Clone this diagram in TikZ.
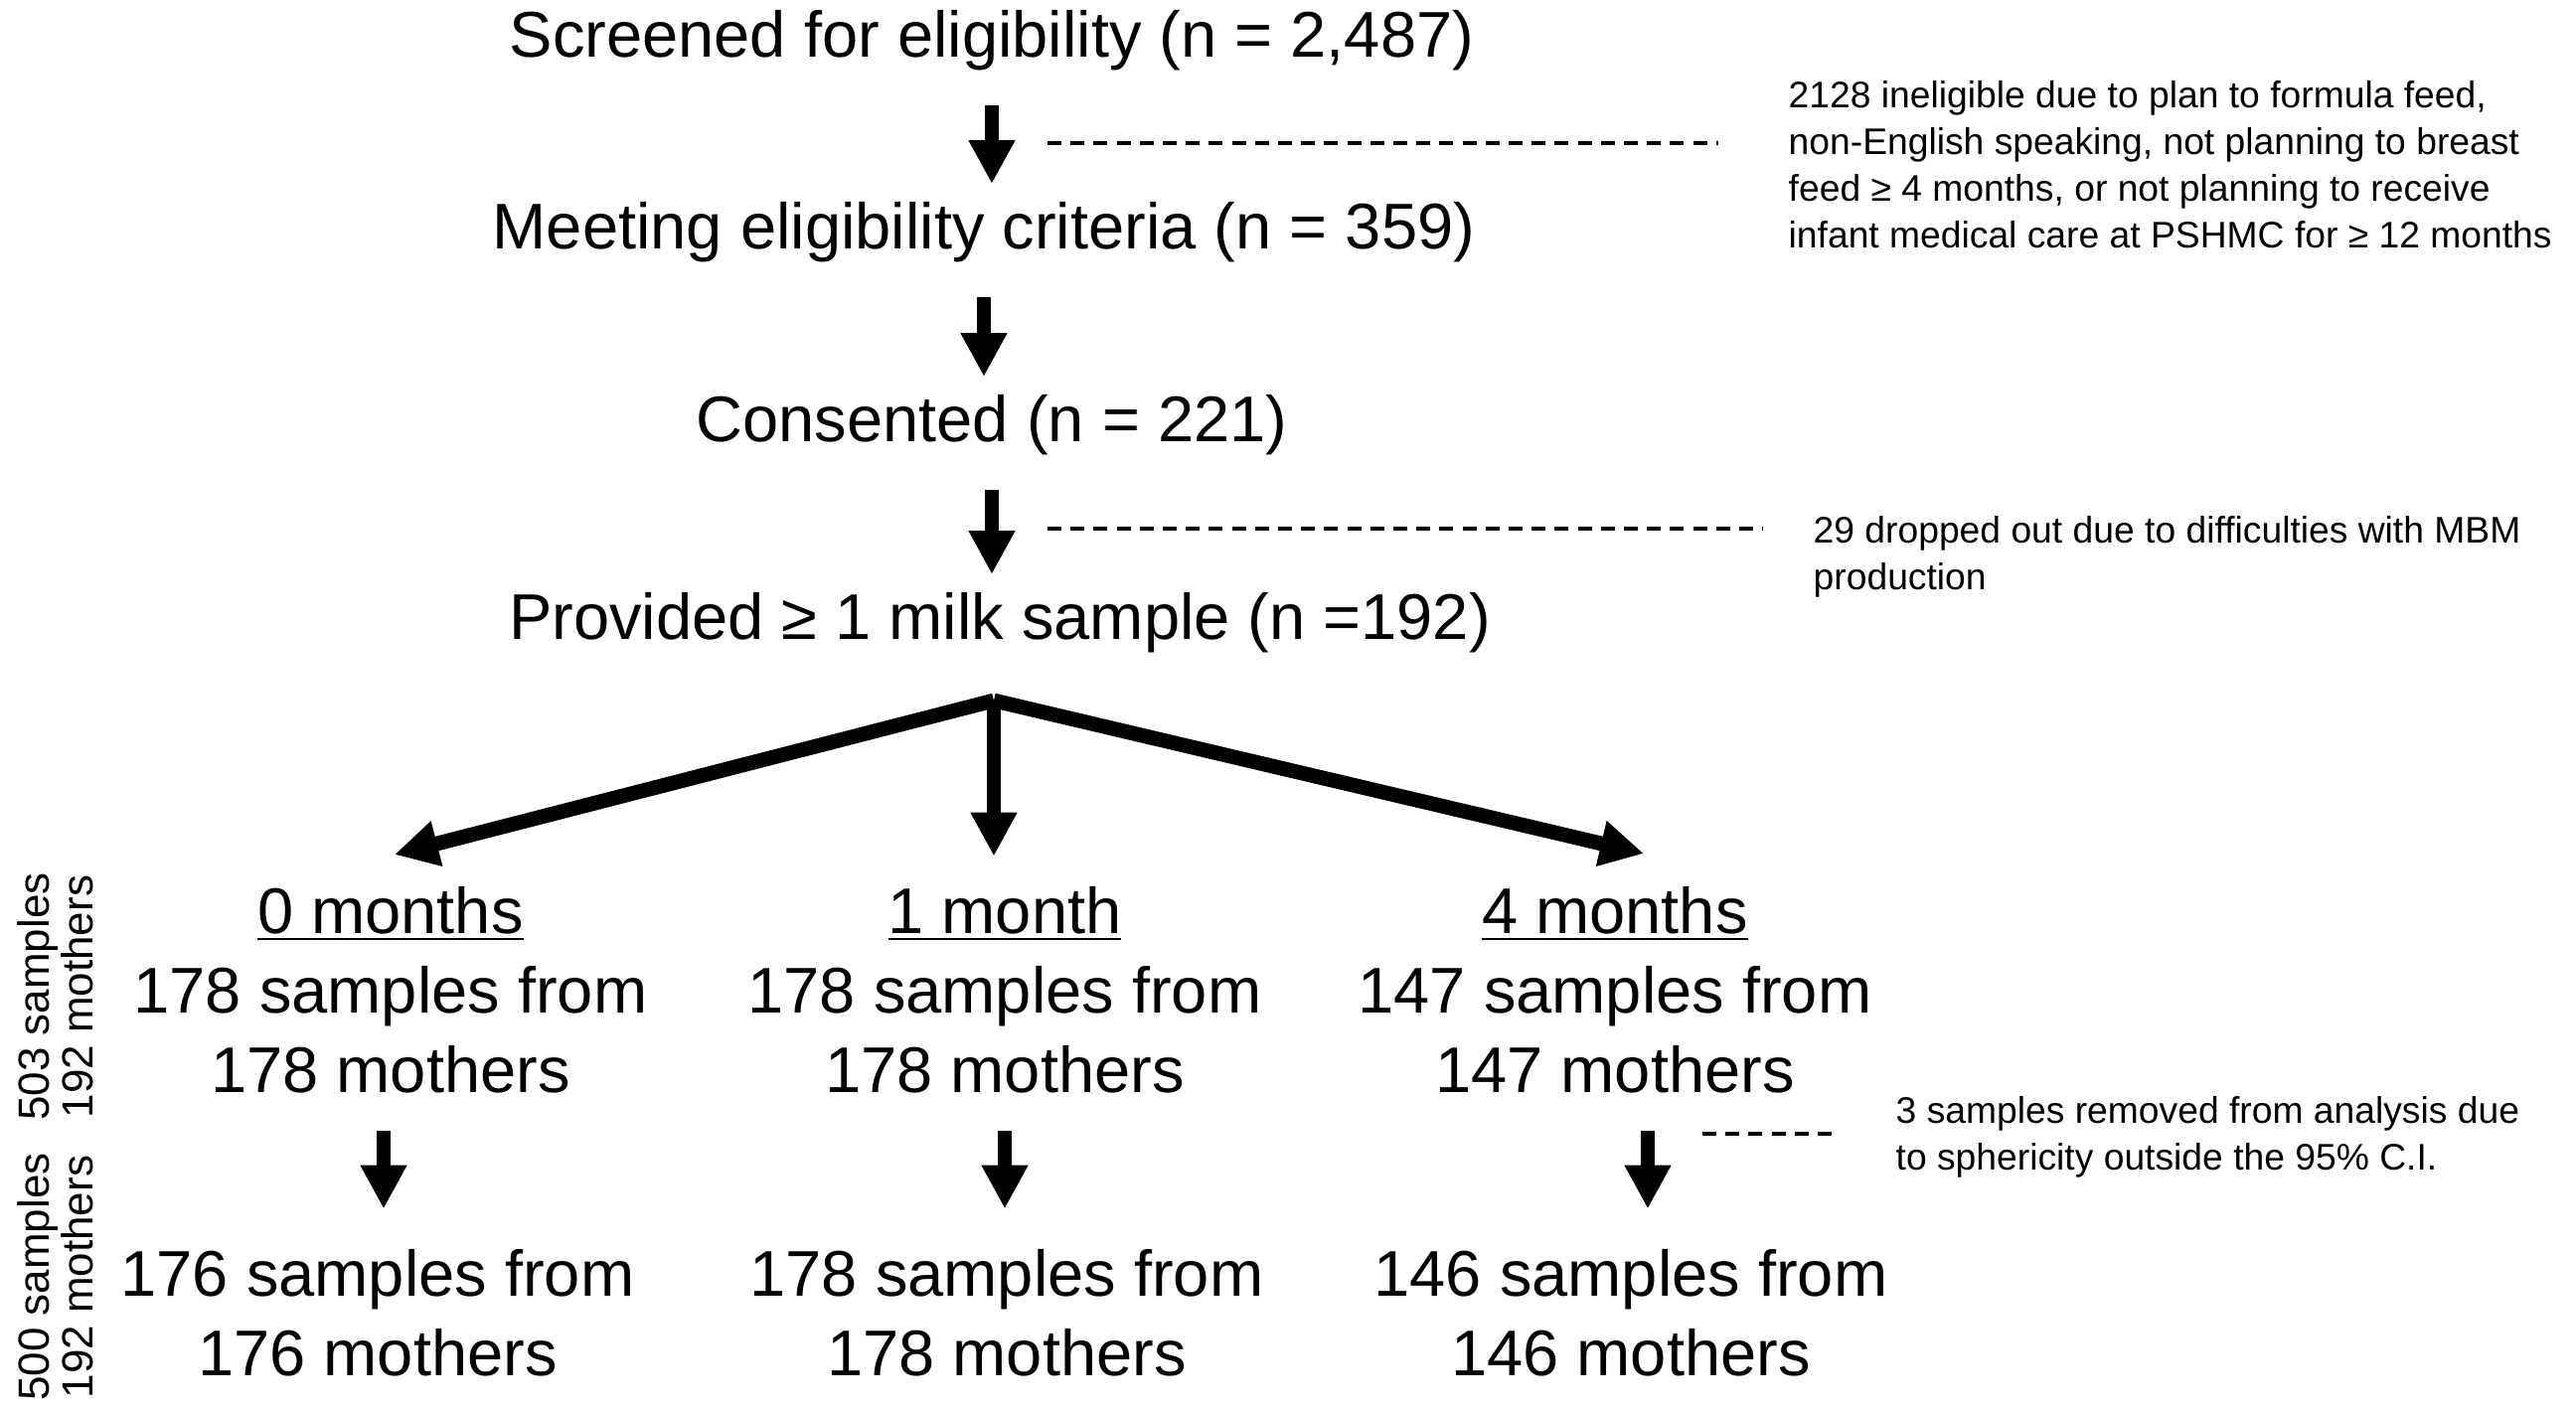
\documentclass[tikz,border=0pt]{standalone}
\usepackage{fontspec}
\setmainfont{Liberation Sans}
\usetikzlibrary{arrows.meta}

\begin{document}
\begin{tikzpicture}[scale = 1.0, every node/.style={inner sep=0pt, align=center, font=\fontsize{18.5}{22.7}\selectfont},
    note/.style={align=left, anchor=west, font=\fontsize{10.6}{13.4}\selectfont},
    side/.style={rotate=90, font=\fontsize{12.5}{12.6}\selectfont},
    flow/.style={line width=4pt, -{Triangle[width=12.5pt, length=12.5pt]}, shorten <=0.34cm, shorten >=0.18cm},
    fan/.style={line width=4.2pt, -{Triangle[width=12.5pt, length=12.5pt]}},
    excl/.style={line width=1.1pt, dash pattern=on 4pt off 2.6pt}]
    \useasboundingbox (0,0) rectangle (25.92,-14.18);
    \node (c0) at (9.98, -0.41) {Screened for eligibility (n = 2,487)};
    \node (c1) at (9.90, -2.34) {Meeting eligibility criteria (n = 359)};
    \node (c2) at (9.98, -4.28) {Consented (n = 221)};
    \node (c3) at (10.06, -6.27) {Provided ≥ 1 milk sample (n =192)};
    \coordinate (top) at (10.00, -7.05);
    \node (t0) at (3.93, -9.96) {\underline{0 months}\\178 samples from\\178 mothers};
    \node (t1) at (10.11, -9.96) {\underline{1 month}\\178 samples from\\178 mothers};
    \node (t4) at (16.25, -9.96) {\underline{4 months}\\147 samples from\\147 mothers};
    \node (f0) at (3.80, -13.21) {176 samples from\\176 mothers};
    \node (f1) at (10.13, -13.21) {178 samples from\\178 mothers};
    \node (f4) at (16.41, -13.21) {146 samples from\\146 mothers};
    \node[side] (s0) at (0.56, -10.03) {503 samples\\192 mothers};
    \node[side] (s1) at (0.56, -12.85) {500 samples\\192 mothers};
    \node[note] (x1) at (17.99, -1.66) {2128 ineligible due to plan to formula feed,\\non-English speaking, not planning to breast\\feed ≥ 4 months, or not planning to receive\\infant medical care at PSHMC for ≥ 12 months};
    \node[note] (x2) at (18.24, -5.60) {29 dropped out due to difficulties with MBM\\production};
    \node[note] (x3) at (19.07, -11.44) {3 samples removed from analysis due\\to sphericity outside the 95\% C.I.};
    \coordinate (d1) at (10.54, -1.44);
    \coordinate (d2) at (10.54, -5.32);
    \coordinate (d3) at (17.13, -11.41);
    \coordinate (e0) at (3.97, -8.60);
    \coordinate (e4) at (16.54, -8.59);
    \foreach \from/\to in {c0/c1, c1/c2, c2/c3}
        \draw[flow] (\from.south) -- (\from.south |- \to.north);
    \foreach \from/\to/\dx in {t0/f0/-0.07, t1/f1/0.0, t4/f4/0.33}
        \draw[flow, shorten <=0.38cm, shorten >=0.40cm] ([xshift=\dx cm]\from.south) -- ([xshift=\dx cm]\from.south |- \to.north);
    \foreach \to in {e0, e4}
        \draw[fan] (top) -- (\to);
    \draw[fan, shorten >=0.3cm] (top) -- (top |- t1.north);
    \foreach \from/\to/\gap in {d1/x1/0.70, d2/x2/0.50, d3/x3/0.62}
        \draw[excl, shorten >=\gap cm] (\from) -- (\from -| \to.west);
\end{tikzpicture}
\end{document}
